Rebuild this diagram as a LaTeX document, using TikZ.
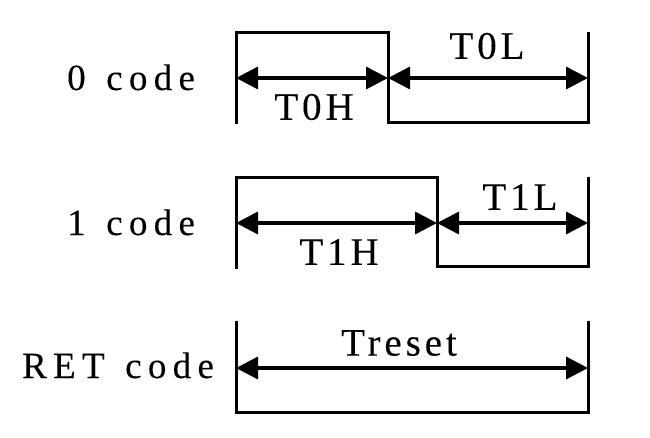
\documentclass[tikz,border=0pt]{standalone}
\usepackage{fontspec}
\setmainfont{Liberation Serif}
\newfontfamily\tlblfont[LetterSpace=10,FakeBold=0.2]{Liberation Serif}
\newfontfamily\rlblfont[LetterSpace=17,FakeBold=0.2]{Liberation Serif}
\usetikzlibrary{arrows.meta}
\begin{document}
\begin{tikzpicture}[x=1pt,y=-1pt,
  wave/.style={line width=3pt,line cap=rect,line join=miter},
  dim/.style={line width=3.5pt,{Triangle[length=22pt,width=22pt]}-{Triangle[length=22pt,width=22pt]}},
  lbl/.style={font=\tlblfont\fontsize{39}{39}\selectfont,inner sep=0pt},
  rowlbl/.style={font=\rlblfont\fontsize{37}{37}\selectfont,inner sep=0pt}]
\useasboundingbox (0,0) rectangle (650,437);
\fill[white] (0,0) rectangle (650,437);
% row 1
\coordinate (a1) at (236,78); \coordinate (b1) at (388,78); \coordinate (c1) at (588,78);
\draw[wave] (236,122) -- (236,32) -- (388,32) -- (388,122) -- (588,122) -- (588,33);
\draw[dim] (a1) -- (b1);
\draw[dim] (b1) -- (c1);
\node[lbl] (t0h) at (314,107) {T0H};
\node[lbl] (t0l) at (487,46) {T0L};
\node[rowlbl,anchor=base west] (r0) at (67,90) {0\hspace{5pt} code};
% row 2
\coordinate (a2) at (236,223); \coordinate (b2) at (437,223); \coordinate (c2) at (588,223);
\draw[wave] (236,267) -- (236,177) -- (437,177) -- (437,266) -- (588,266) -- (588,178);
\draw[dim] (a2) -- (b2);
\draw[dim] (b2) -- (c2);
\node[lbl] (t1h) at (339,252) {T1H};
\node[lbl] (t1l) at (520,197) {T1L};
\node[rowlbl,anchor=base west] (r1) at (67,235) {1\hspace{5pt} code};
% row 3
\coordinate (a3) at (236,368); \coordinate (c3) at (588,368);
\draw[wave] (236,322) -- (236,412) -- (588,412) -- (588,322);
\draw[dim] (a3) -- (c3);
\node[lbl] (tr) at (399,343) {Treset};
\node[rowlbl,anchor=base west] (r2) at (22,378) {RET\hspace{5pt} code};
\end{tikzpicture}
\end{document}
